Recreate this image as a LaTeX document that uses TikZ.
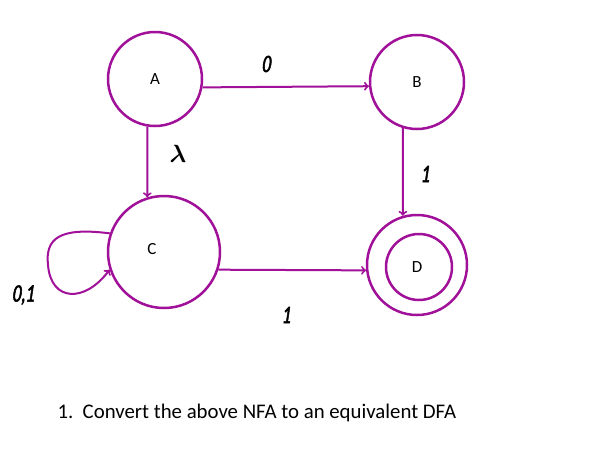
\documentclass[tikz,border=0pt]{standalone}
\usepackage{bm}
\usepackage{fontspec}
\setmainfont{Carlito}
\newfontfamily\handfont[FakeStretch=0.7,FakeSlant=0.15,FakeBold=2]{Carlito}
\usetikzlibrary{positioning}
\definecolor{nfapurple}{RGB}{160,16,152}
\tikzset{state/.style={circle,draw=nfapurple,line width=2.5pt,inner sep=0pt,font=\fontsize{17}{19}\selectfont},
  hand/.style={font=\handfont\fontsize{25}{27}\selectfont},}

\begin{document}
\begin{tikzpicture}[x=1pt,y=-1pt]
  \useasboundingbox (0,0) rectangle (596,469);
  \node[state,minimum size=94pt] (a) at (155,79) {\raisebox{-3pt}{A}};
  \node[state,minimum size=94pt] (b) at (417,82) {B};
  \node[state,minimum size=112pt] (c) at (164,252) {};
  \node[font=\fontsize{17}{19}\selectfont] (cl) at (152,249) {C};
  \node[state,minimum size=100pt] (d) at (417,265) {};
  \node[state,minimum size=66pt] (dd) at (419,267) {\hspace*{-4pt}D};

  \path[->,line width=2pt,nfapurple]
  (a.-10) edge node {} (b.185)
  (a.261) edge node {} (c.107)
  (b.253) edge node {} (d.106)
  (c.-18) edge node {} (d.186);
  \draw[->,line width=2pt,nfapurple] (c.161) .. controls (60,227) and (45,238) .. (48,265)
    .. controls (51,302) and (85,303) .. (c.198);

  \node[hand] (l0) at (266,64) {0};
  \node[hand,font=\fontsize{27}{29}\selectfont] (ll) at (178,154) {$\bm{\lambda}$};
  \node[hand] (l1) at (425,174) {1};
  \node[hand] (l2) at (286,315) {1};
  \node[hand] (l3) at (23,295) {0,1};
  \node[anchor=west,font=\fontsize{20.8}{24}\selectfont] (q) at (54,413) {1.\ \ Convert the above NFA to an equivalent DFA};
\end{tikzpicture}
\end{document}
